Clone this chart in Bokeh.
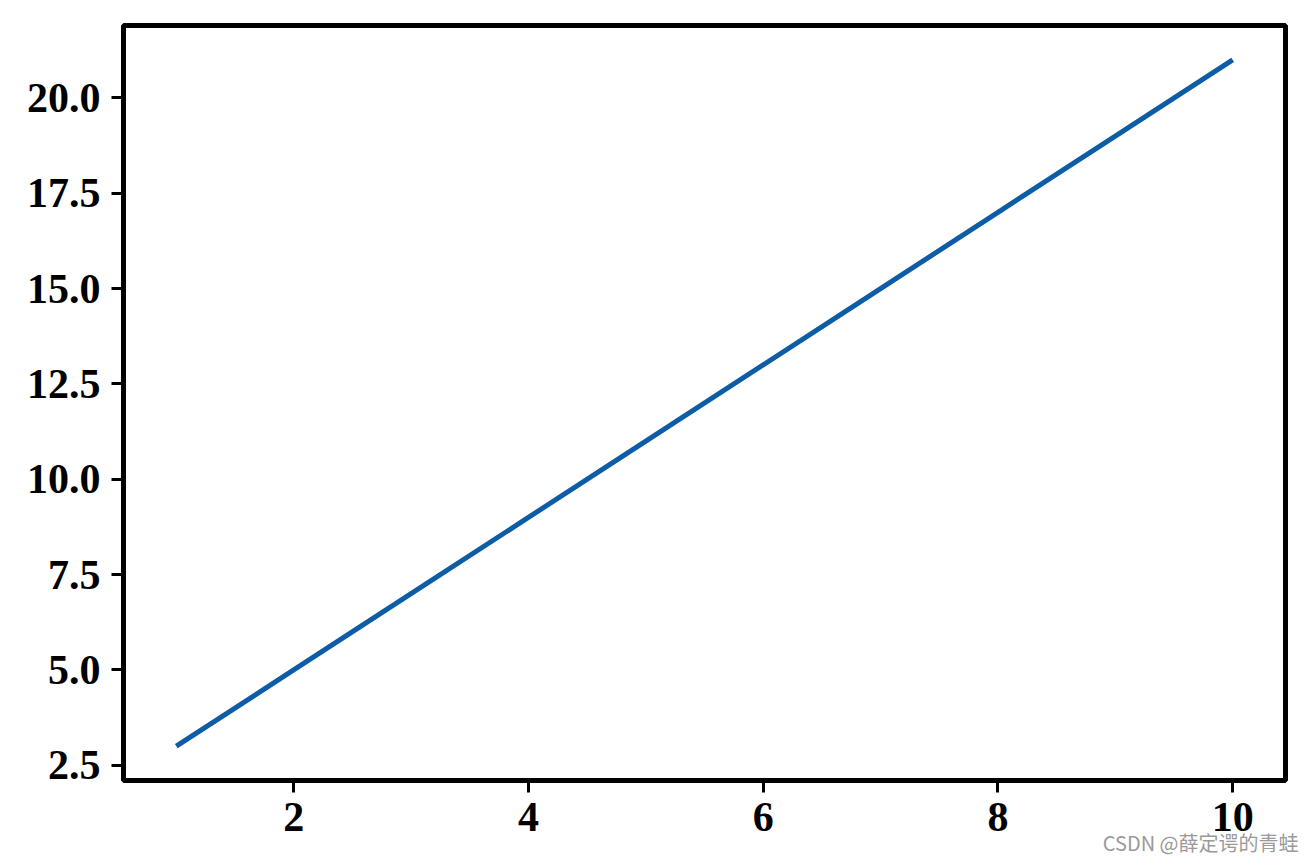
from bokeh.plotting import figure
from bokeh.models import Range1d, FixedTicker, NumeralTickFormatter, Title
from bokeh.embed import file_html
from bokeh.resources import INLINE

x_values = [1, 2, 3, 4, 5, 6, 7, 8, 9, 10]
y_values = [3, 5, 7, 9, 11, 13, 15, 17, 19, 21]
x_ticks = [2, 4, 6, 8, 10]
y_ticks = [2.5, 5.0, 7.5, 10.0, 12.5, 15.0, 17.5, 20.0]
watermark = "CSDN @薛定谔的青蛙"

FONT = "Liberation Serif"

p = figure(width=1300, height=866, output_backend="svg", toolbar_location=None,
           x_range=Range1d(0.55, 10.45), y_range=Range1d(2.1, 21.9),
           min_border_left=123, min_border_right=15, min_border_top=25, min_border_bottom=86)
p.grid.visible = False
p.background_fill_color = "white"
p.border_fill_color = "white"
p.outline_line_color = "black"
p.outline_line_width = 5

p.line(x_values, y_values, line_color="#0c5da5", line_width=5)

for ax in (p.xaxis[0], p.yaxis[0]):
    ax.axis_line_color = None
    ax.major_tick_in = 0
    ax.major_tick_out = 12
    ax.major_tick_line_width = 3
    ax.major_tick_line_color = "black"
    ax.minor_tick_line_color = None
    ax.major_label_text_font = FONT
    ax.major_label_text_font_style = "bold"
    ax.major_label_text_font_size = "42px"
    ax.major_label_text_color = "black"

p.xaxis[0].ticker = FixedTicker(ticks=x_ticks)
p.yaxis[0].ticker = FixedTicker(ticks=y_ticks)
p.xaxis[0].formatter = NumeralTickFormatter(format="0")
p.yaxis[0].formatter = NumeralTickFormatter(format="0.0")
p.xaxis[0].major_label_standoff = 10
p.yaxis[0].major_label_standoff = 11

# watermark: a right-aligned title below the x axis
p.add_layout(Title(text=watermark, align="right", vertical_align="bottom",
                   offset=-13, standoff=-16,
                   text_font="Noto Sans CJK SC", text_font_style="normal",
                   text_font_size="20px", text_color="#9a9a9a"), "below")

open("out.html", "w").write(file_html(p, INLINE))
